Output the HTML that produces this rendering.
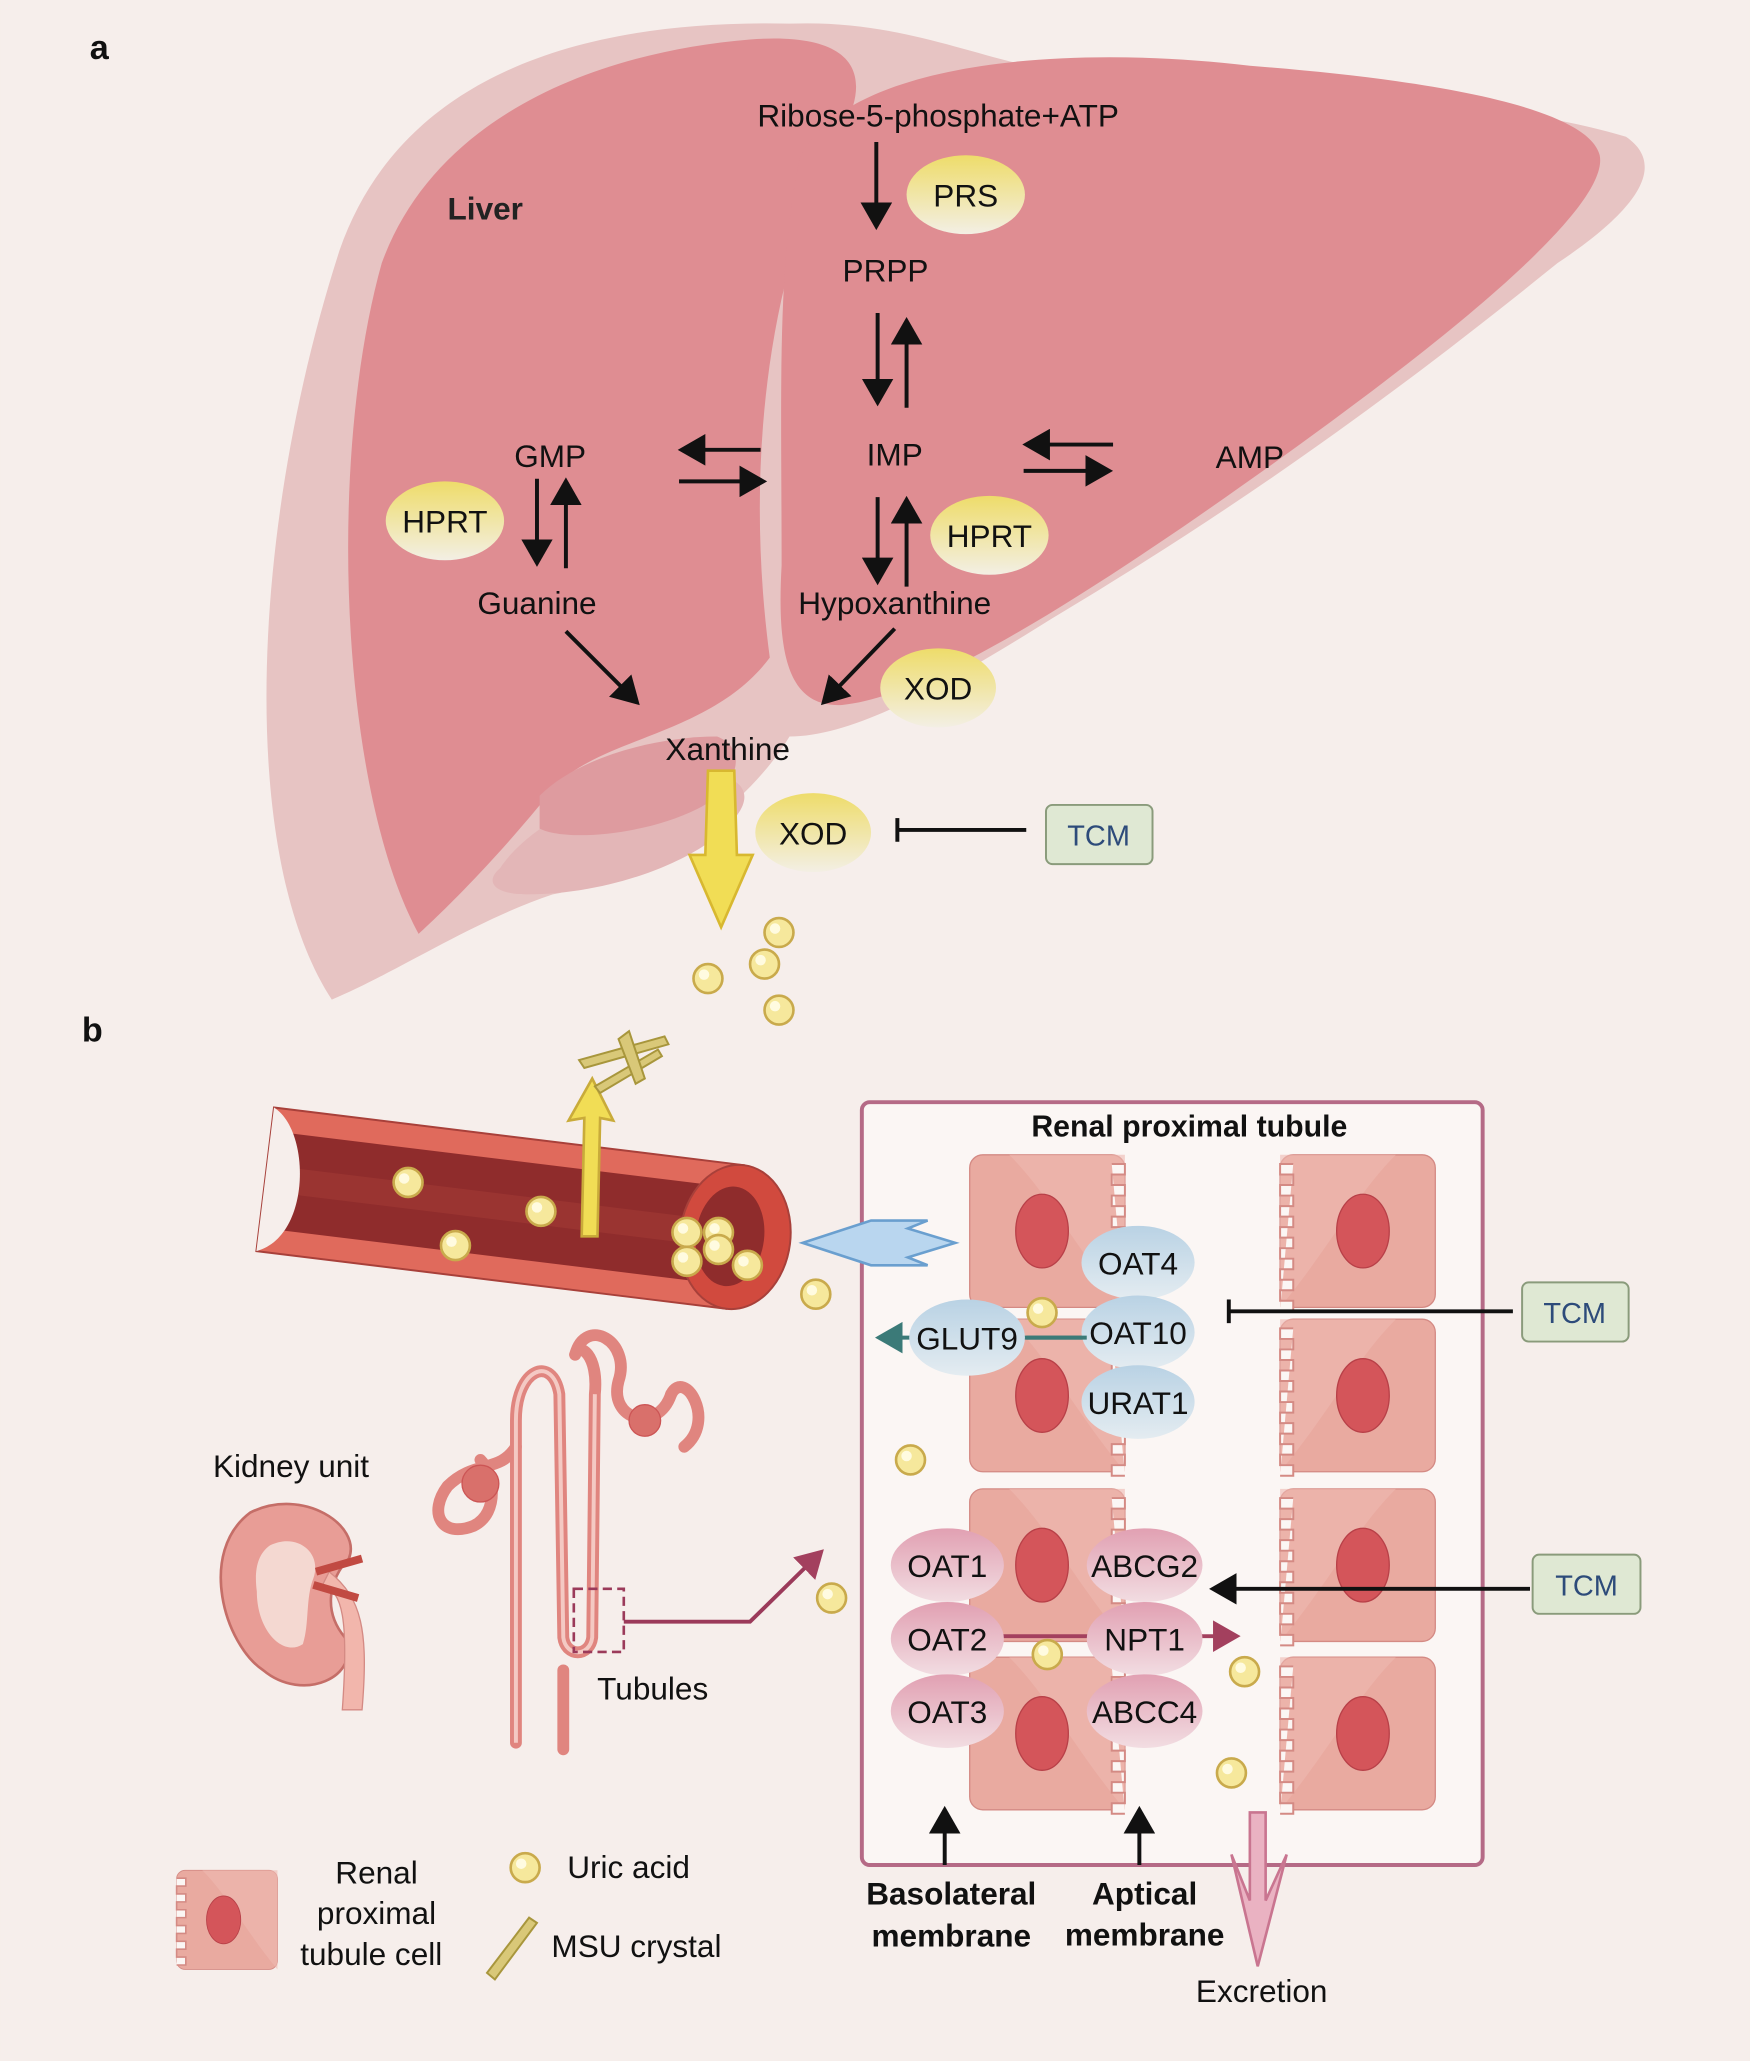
<!DOCTYPE html>
<html><head><meta charset="utf-8"><style>
html,body{margin:0;padding:0;background:#f6eeeb}
svg{display:block}
text{font-family:"Liberation Sans",sans-serif}
</style></head><body>
<svg width="1750" height="2061" viewBox="0 0 1330 1567" xmlns="http://www.w3.org/2000/svg">
<defs>
<linearGradient id="yg" x1="0" y1="0" x2="0" y2="1"><stop offset="0" stop-color="#eedc6a"/><stop offset="1" stop-color="#f3efe4"/></linearGradient>
<linearGradient id="bg" x1="0" y1="0" x2="0" y2="1"><stop offset="0" stop-color="#b9d2e4"/><stop offset="1" stop-color="#e4ecf1"/></linearGradient>
<linearGradient id="pg" x1="0" y1="0" x2="0" y2="1"><stop offset="0" stop-color="#e1a0b2"/><stop offset="1" stop-color="#f2dde2"/></linearGradient>
<marker id="ah" markerWidth="8" markerHeight="8" refX="6" refY="4" orient="auto" markerUnits="strokeWidth"><path d="M0,0 L7,4 L0,8 Z" fill="#111"/></marker>
<marker id="ahr" markerWidth="8" markerHeight="8" refX="6" refY="4" orient="auto" markerUnits="strokeWidth"><path d="M0,0 L7,4 L0,8 Z" fill="#a3405e"/></marker>
<marker id="ahg" markerWidth="8" markerHeight="8" refX="6" refY="4" orient="auto" markerUnits="strokeWidth"><path d="M0,0 L7,4 L0,8 Z" fill="#3b7a78"/></marker>
<g id="cellL">
<rect x="0" y="0" width="118" height="116" rx="10" fill="#e9aaa0" stroke="#d48a84"/>
<path d="M30,0 C60,30 80,70 118,116 L118,0 Z" fill="#eeb9b1" opacity="0.6"/>
<ellipse cx="55" cy="58" rx="20" ry="28" fill="#d4555a" stroke="#b84048"/>
</g>
<g id="ua"><circle r="11" fill="#f6e89c" stroke="#c9aa4c" stroke-width="2"/><circle cx="-3" cy="-3" r="4" fill="#fffbe0"/></g>
</defs>

<rect width="1330" height="1567" fill="#f6eeeb"/>

<!-- Liver -->
<path d="M252,760 C180,650 190,400 258,190 C300,70 420,14 600,18 C700,14 760,56 840,58 C1000,66 1150,78 1236,104 C1268,126 1244,160 1184,200 C1060,300 950,380 800,470 C720,520 650,560 600,560 C570,610 500,665 420,680 C360,700 300,740 252,760 Z" fill="#e7c4c3"/>
<path d="M380,660 C400,630 450,600 520,590 C560,585 575,600 560,620 C540,650 470,680 400,680 C375,680 368,670 380,660 Z" fill="#e3b6b7"/>
<path d="M318,710 C258,600 248,350 290,200 C330,90 450,40 570,30 C650,24 664,56 640,100 C585,200 565,350 585,500 C540,560 455,560 420,600 C380,650 340,690 318,710 Z" fill="#df8d92"/>
<path d="M608,120 C640,50 800,32 950,50 C1080,60 1206,80 1216,118 C1224,158 1100,262 900,400 C800,468 700,530 640,536 C600,538 590,500 594,430 C594,300 590,200 608,120 Z" fill="#df8d92"/>
<path d="M410,605 C440,575 500,560 545,560 C570,570 560,600 530,615 C490,635 430,640 410,630 Z" fill="#de9b9f"/>

<text x="340" y="167" font-size="24" font-weight="bold" fill="#222">Liver</text>
<text x="68" y="45" font-size="26" font-weight="bold" fill="#111">a</text>
<text x="62" y="792" font-size="26" font-weight="bold" fill="#111">b</text>

<g font-size="24" fill="#111" text-anchor="middle">
<text x="713" y="96">Ribose-5-phosphate+ATP</text>
<text x="673" y="214">PRPP</text>
<text x="680" y="354">IMP</text>
<text x="418" y="355">GMP</text>
<text x="950" y="356">AMP</text>
<text x="408" y="467">Guanine</text>
<text x="680" y="467">Hypoxanthine</text>
<text x="553" y="578">Xanthine</text>
</g>

<g stroke="#111" stroke-width="3" fill="none" marker-end="url(#ah)">
<line x1="666" y1="108" x2="666" y2="172"/>
<line x1="667" y1="238" x2="667" y2="306"/>
<line x1="689" y1="310" x2="689" y2="244"/>
<line x1="667" y1="378" x2="667" y2="442"/>
<line x1="689" y1="446" x2="689" y2="380"/>
<line x1="408" y1="364" x2="408" y2="428"/>
<line x1="430" y1="432" x2="430" y2="366"/>
<line x1="578" y1="342" x2="518" y2="342"/>
<line x1="516" y1="366" x2="580" y2="366"/>
<line x1="846" y1="338" x2="780" y2="338"/>
<line x1="778" y1="358" x2="843" y2="358"/>
<line x1="430" y1="480" x2="484" y2="534"/>
<line x1="680" y1="478" x2="626" y2="534"/>
</g>
<line x1="780" y1="631" x2="683" y2="631" stroke="#111" stroke-width="3"/>
<line x1="682" y1="622" x2="682" y2="640" stroke="#111" stroke-width="3"/>

<g font-size="24" fill="#111" text-anchor="middle">
<ellipse cx="734" cy="148" rx="45" ry="30" fill="url(#yg)"/><text x="734" y="157">PRS</text>
<ellipse cx="338" cy="396" rx="45" ry="30" fill="url(#yg)"/><text x="338" y="405">HPRT</text>
<ellipse cx="752" cy="407" rx="45" ry="30" fill="url(#yg)"/><text x="752" y="416">HPRT</text>
<ellipse cx="713" cy="523" rx="44" ry="30" fill="url(#yg)"/><text x="713" y="532">XOD</text>
<ellipse cx="618" cy="633" rx="44" ry="30" fill="url(#yg)"/><text x="618" y="642">XOD</text>
</g>

<path d="M538,586 L558,586 L560,650 L572,650 L548,705 L524,650 L536,650 Z" fill="#f1dd55" stroke="#d8b830" stroke-width="2"/>

<g>
<use href="#ua" x="592" y="709"/><use href="#ua" x="581" y="733"/><use href="#ua" x="538" y="744"/><use href="#ua" x="592" y="768"/>
</g>

<g font-size="22" fill="#2d4b7a" text-anchor="middle">
<rect x="795" y="612" width="81" height="45" rx="5" fill="#dfe8d3" stroke="#8a9b7b" stroke-width="1.5"/><text x="835" y="643">TCM</text>
<rect x="1157" y="975" width="81" height="45" rx="5" fill="#dfe8d3" stroke="#8a9b7b" stroke-width="1.5"/><text x="1197" y="1006">TCM</text>
<rect x="1165" y="1182" width="82" height="45" rx="5" fill="#dfe8d3" stroke="#8a9b7b" stroke-width="1.5"/><text x="1206" y="1213">TCM</text>
</g>

<!-- Blood vessel -->
<g transform="rotate(7 400 920)">
<rect x="200" y="866" width="360" height="110" fill="#e06a5c" stroke="#a8403a" stroke-width="1.5"/>
<rect x="200" y="884" width="360" height="74" fill="#8f2c2c"/>
<rect x="200" y="910" width="360" height="20" fill="#a23a36" opacity="0.6"/>
<ellipse cx="560" cy="921" rx="42" ry="55" fill="#d14a3e" stroke="#a8403a" stroke-width="1.5"/>
<ellipse cx="556" cy="921" rx="26" ry="38" fill="#8f2c2c"/>
<path d="M200,866 C230,880 240,960 200,976" fill="#f6eeeb"/>
</g>
<use href="#ua" x="310" y="899"/><use href="#ua" x="411" y="921"/><use href="#ua" x="346" y="947"/>
<use href="#ua" x="522" y="937"/><use href="#ua" x="546" y="937"/><use href="#ua" x="522" y="959"/><use href="#ua" x="546" y="950"/><use href="#ua" x="568" y="962"/>
<use href="#ua" x="620" y="984"/>
<path d="M442,940 L454,940 L456,850 L466,852 L450,820 L432,852 L444,850 Z" fill="#f1dd55" stroke="#c9ab3a" stroke-width="2"/>
<g fill="#d9c878" stroke="#a8963c" stroke-width="1.5">
<path d="M440,806 L505,788 L508,794 L444,812 Z"/><path d="M452,826 L500,798 L503,803 L456,831 Z"/><path d="M470,790 L478,784 L490,820 L483,824 Z"/>
</g>

<!-- Tubule box -->
<rect x="655" y="838" width="472" height="580" rx="6" fill="#fbf6f4" stroke="#b56a86" stroke-width="3"/>
<text x="904" y="864" font-size="23" font-weight="bold" text-anchor="middle" fill="#111">Renal proximal tubule</text>
<g>
<use href="#cellL" x="737" y="878"/><use href="#cellL" x="737" y="1003"/><use href="#cellL" x="737" y="1132"/><use href="#cellL" x="737" y="1260"/>
<g transform="translate(1828,0) scale(-1,1)">
<use href="#cellL" x="737" y="878"/><use href="#cellL" x="737" y="1003"/><use href="#cellL" x="737" y="1132"/><use href="#cellL" x="737" y="1260"/>
</g>
</g>
<g fill="#fbf6f4" stroke="#d48a84" stroke-width="1.5">
<path d="M845,885 h10 v8 h-10 v8 h10 v8 h-10 v8 h10 v8 h-10 v8 h10 v8 h-10 v8 h10 v8 h-10 v8 h10 v8 h-10 v8 h10 v8 h-10 v8 h10"/>
<path d="M845,1010 h10 v8 h-10 v8 h10 v8 h-10 v8 h10 v8 h-10 v8 h10 v8 h-10 v8 h10 v8 h-10 v8 h10 v8 h-10 v8 h10 v8 h-10 v8 h10"/>
<path d="M845,1139 h10 v8 h-10 v8 h10 v8 h-10 v8 h10 v8 h-10 v8 h10 v8 h-10 v8 h10 v8 h-10 v8 h10 v8 h-10 v8 h10 v8 h-10 v8 h10"/>
<path d="M845,1267 h10 v8 h-10 v8 h10 v8 h-10 v8 h10 v8 h-10 v8 h10 v8 h-10 v8 h10 v8 h-10 v8 h10 v8 h-10 v8 h10 v8 h-10 v8 h10"/>
<path d="M983,885 h-10 v8 h10 v8 h-10 v8 h10 v8 h-10 v8 h10 v8 h-10 v8 h10 v8 h-10 v8 h10 v8 h-10 v8 h10 v8 h-10 v8 h10 v8 h-10"/>
<path d="M983,1010 h-10 v8 h10 v8 h-10 v8 h10 v8 h-10 v8 h10 v8 h-10 v8 h10 v8 h-10 v8 h10 v8 h-10 v8 h10 v8 h-10 v8 h10 v8 h-10"/>
<path d="M983,1139 h-10 v8 h10 v8 h-10 v8 h10 v8 h-10 v8 h10 v8 h-10 v8 h10 v8 h-10 v8 h10 v8 h-10 v8 h10 v8 h-10 v8 h10 v8 h-10"/>
<path d="M983,1267 h-10 v8 h10 v8 h-10 v8 h10 v8 h-10 v8 h10 v8 h-10 v8 h10 v8 h-10 v8 h10 v8 h-10 v8 h10 v8 h-10 v8 h10 v8 h-10"/>
</g>

<!-- blue arrow (on top of box) -->
<path d="M726,945 L690,934 L705,928 L662,928 L610,945 L662,962 L705,962 L690,956 Z" fill="#b9d6ef" stroke="#6a9fcf" stroke-width="2"/>

<line x1="825" y1="1017" x2="668" y2="1017" stroke="#3b7a78" stroke-width="3" marker-end="url(#ahg)"/>
<line x1="760" y1="1244" x2="940" y2="1244" stroke="#a3405e" stroke-width="3" marker-end="url(#ahr)"/>
<g font-size="24" fill="#111" text-anchor="middle">
<ellipse cx="865" cy="960" rx="43" ry="28" fill="url(#bg)"/><text x="865" y="969">OAT4</text>
<ellipse cx="865" cy="1013" rx="43" ry="28" fill="url(#bg)"/><text x="865" y="1022">OAT10</text>
<ellipse cx="865" cy="1066" rx="43" ry="28" fill="url(#bg)"/><text x="865" y="1075">URAT1</text>
<ellipse cx="735" cy="1017" rx="44" ry="29" fill="url(#bg)"/><text x="735" y="1026">GLUT9</text>
<ellipse cx="720" cy="1190" rx="43" ry="28" fill="url(#pg)"/><text x="720" y="1199">OAT1</text>
<ellipse cx="720" cy="1246" rx="43" ry="28" fill="url(#pg)"/><text x="720" y="1255">OAT2</text>
<ellipse cx="720" cy="1301" rx="43" ry="28" fill="url(#pg)"/><text x="720" y="1310">OAT3</text>
<ellipse cx="870" cy="1190" rx="44" ry="28" fill="url(#pg)"/><text x="870" y="1199">ABCG2</text>
<ellipse cx="870" cy="1246" rx="44" ry="28" fill="url(#pg)"/><text x="870" y="1255">NPT1</text>
<ellipse cx="870" cy="1301" rx="44" ry="28" fill="url(#pg)"/><text x="870" y="1310">ABCC4</text>
</g>
<line x1="780" y1="1017" x2="826" y2="1017" stroke="#3b7a78" stroke-width="3"/>
<use href="#ua" x="792" y="998"/><use href="#ua" x="692" y="1110"/><use href="#ua" x="632" y="1215"/><use href="#ua" x="796" y="1258"/><use href="#ua" x="946" y="1271"/><use href="#ua" x="936" y="1348"/>

<line x1="1150" y1="997" x2="935" y2="997" stroke="#111" stroke-width="3"/>
<line x1="934" y1="988" x2="934" y2="1006" stroke="#111" stroke-width="3"/>
<line x1="1163" y1="1208" x2="922" y2="1208" stroke="#111" stroke-width="3" marker-end="url(#ah)"/>

<line x1="718" y1="1418" x2="718" y2="1376" stroke="#111" stroke-width="3" marker-end="url(#ah)"/>
<line x1="866" y1="1418" x2="866" y2="1376" stroke="#111" stroke-width="3" marker-end="url(#ah)"/>
<g font-size="24" font-weight="bold" fill="#111" text-anchor="middle">
<text x="723" y="1448">Basolateral</text><text x="723" y="1480">membrane</text>
<text x="870" y="1448">Aptical</text><text x="870" y="1479">membrane</text>
</g>
<path d="M950,1378 L962,1378 L962,1445 L978,1410 L956,1495 L936,1410 L950,1445 Z" fill="#eab2c2" stroke="#c97590" stroke-width="2"/>
<text x="959" y="1522" font-size="24" text-anchor="middle" fill="#111">Excretion</text>

<!-- nephron / kidney -->
<g fill="none" stroke="#e0857f" stroke-width="9" stroke-linecap="round">
<path d="M392,1325 L392,1080 C392,1040 420,1030 425,1060 L428,1245 C430,1260 448,1260 450,1245 L452,1060 C455,1030 440,1020 437,1030"/>
<path d="M428,1330 L428,1270"/>
<path d="M437,1030 C445,1000 480,1020 470,1050 C462,1080 500,1090 510,1060"/>
<path d="M510,1060 C520,1040 545,1080 520,1100"/>
<path d="M392,1100 C380,1120 360,1110 340,1130 C325,1150 335,1170 360,1160 C380,1150 375,1120 365,1110"/>
</g>
<g fill="none" stroke="#f4c9c3" stroke-width="3">
<path d="M392,1325 L392,1080 C392,1040 420,1030 425,1060 L428,1245 C430,1260 448,1260 450,1245 L452,1060"/>
</g>
<circle cx="365" cy="1128" r="14" fill="#d9706b" stroke="#c55" />
<circle cx="490" cy="1080" r="12" fill="#d9706b" stroke="#c55"/>
<rect x="436" y="1208" width="38" height="48" fill="none" stroke="#9b3a5a" stroke-width="2" stroke-dasharray="7,4"/>
<polyline points="474,1233 570,1233 624,1180" fill="none" stroke="#9b3a5a" stroke-width="3" marker-end="url(#ahr)"/>
<text x="496" y="1292" font-size="24" text-anchor="middle" fill="#111">Tubules</text>
<text x="221" y="1123" font-size="24" text-anchor="middle" fill="#111">Kidney unit</text>
<path d="M190,1150 C230,1130 275,1160 265,1185 C250,1200 245,1225 262,1245 C275,1275 230,1295 200,1270 C170,1250 150,1180 190,1150 Z" fill="#e89d96" stroke="#c56e68" stroke-width="2"/>
<path d="M205,1175 C225,1165 245,1180 238,1200 C232,1215 235,1235 230,1250 C215,1260 195,1240 195,1210 C193,1195 195,1182 205,1175 Z" fill="#f4d8d1"/>
<path d="M245,1205 C260,1210 265,1230 260,1300 L275,1300 C280,1240 275,1215 250,1195 Z" fill="#f2b6ac" stroke="#d48a84"/>
<path d="M240,1195 L275,1185 M238,1205 L272,1215" stroke="#c14a42" stroke-width="6"/>

<!-- legend -->
<g transform="translate(134,1422) scale(0.65)"><use href="#cellL" x="0" y="0"/></g>
<g fill="#fbf6f4" stroke="#d48a84" stroke-width="1.2"><path d="M134,1428 h7 v6 h-7 v6 h7 v6 h-7 v6 h7 v6 h-7 v6 h7 v6 h-7 v6 h7 v6 h-7 v6 h7 v6 h-7"/></g>
<g font-size="24" fill="#111" text-anchor="middle">
<text x="286" y="1432">Renal</text><text x="286" y="1463">proximal</text><text x="282" y="1494">tubule cell</text>
</g>
<use href="#ua" x="399" y="1420"/>
<text x="431" y="1428" font-size="24" fill="#111">Uric acid</text>
<path d="M370,1500 L402,1458 L408,1462 L376,1505 Z" fill="#d9c878" stroke="#a8963c" stroke-width="1.5"/>
<text x="419" y="1488" font-size="24" fill="#111">MSU crystal</text>
</svg>
</body></html>
